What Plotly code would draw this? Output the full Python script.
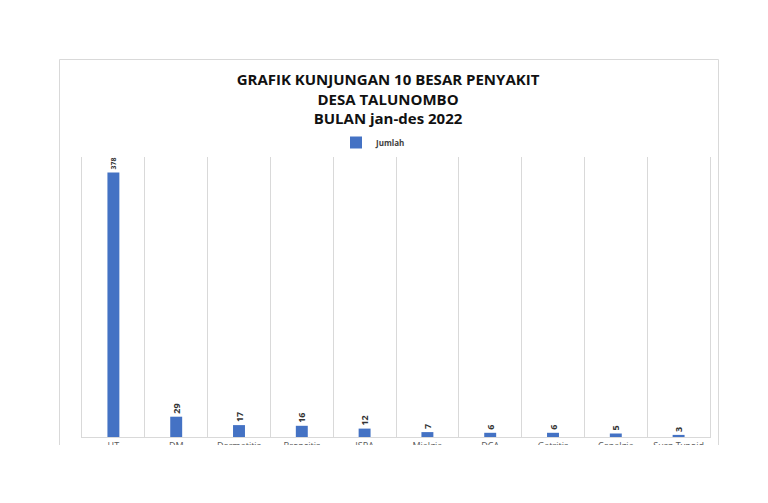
import plotly.graph_objects as go

# data
penyakit = ["HT", "DM", "Dermatitis", "Broncitis", "ISPA",
            "Mialgia", "DCA", "Gatritis", "Cepalgia", "Susp Typoid"]
jumlah = [378, 29, 17, 16, 12, 7, 6, 6, 5, 3]

# the page body has an 8px margin, so work in page pixels and shift
OFF = 8
W, H = 768 - 2 * OFF, 503 - 2 * OFF
# plot area in page pixels
L, R, T, B = 82, 710, 157, 437


def px_x(p):
    return (p - L) / (R - L)


def px_y(p):
    return (B - p) / (B - T)


fig = go.Figure()
fig.add_trace(go.Bar(
    x=penyakit, y=jumlah,
    name="Jumlah",
    width=0.19,
    marker=dict(color="#4472C4", line=dict(width=0)),
    text=[str(v) for v in jumlah],
    textposition="outside",
    textangle=-90,
    cliponaxis=False,
    textfont=dict(family="Open Sans", size=9, color="#333333", weight="bold"),
))

fig.update_layout(
    width=W, height=H,
    margin=dict(l=L - OFF, r=768 - R - OFF, t=T - OFF, b=503 - B - OFF),
    paper_bgcolor="white",
    plot_bgcolor="white",
    font=dict(family="Open Sans"),
    title=dict(
        text="GRAFIK KUNJUNGAN 10 BESAR PENYAKIT<br>DESA TALUNOMBO<br>BULAN jan-des 2022",
        x=(388 - OFF) / W, xanchor="center",
        y=1 - (85 - OFF) / H, yanchor="top",
        font=dict(family="Open Sans", size=15, color="#111111", weight="bold"),
    ),
    showlegend=True,
    legend=dict(
        orientation="h",
        x=px_x(336), xanchor="left",
        y=px_y(128), yanchor="top",
        font=dict(family="Open Sans", size=8, color="#404040", weight="bold"),
        itemwidth=30,
    ),
    xaxis=dict(
        type="category",
        tickson="boundaries",
        showgrid=True, gridcolor="#d9d9d9", gridwidth=1,
        showline=True, linecolor="#d9d9d9", linewidth=1,
        ticks="", ticklen=0,
        tickfont=dict(family="Open Sans", size=9, color="#595959"),
    ),
    yaxis=dict(
        range=[0, 400],
        showgrid=False, zeroline=False,
        showticklabels=False,
        showline=True, mirror=True, linecolor="#d9d9d9", linewidth=1,
    ),
    shapes=[
        # outer chart frame
        dict(type="rect", xref="paper", yref="paper",
             x0=px_x(59.5), x1=px_x(718.5), y0=px_y(470), y1=px_y(59.5),
             line=dict(color="#d9d9d9", width=1), fillcolor="rgba(0,0,0,0)",
             layer="below"),
        # the reference image is cut off just below the axis labels
        dict(type="rect", xref="paper", yref="paper",
             x0=-0.3, x1=1.3, y0=px_y(520), y1=px_y(445),
             line=dict(width=0), fillcolor="white", layer="above"),
    ],
)

fig.write_html("out.html")
